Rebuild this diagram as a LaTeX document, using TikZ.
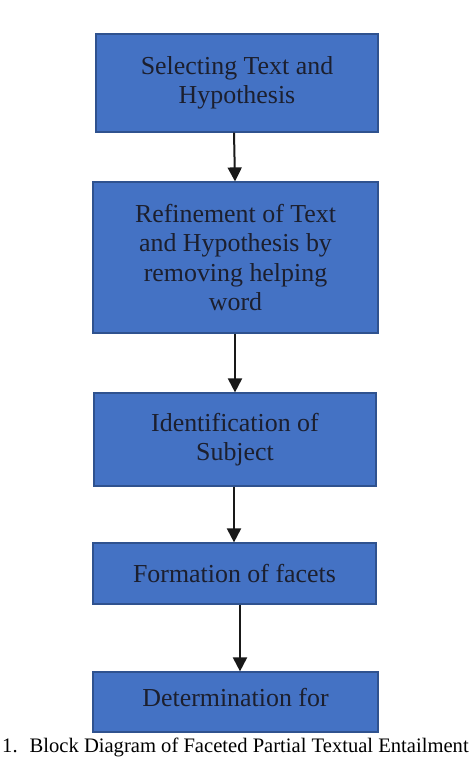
\documentclass[tikz,border=0pt]{standalone}
\usepackage{fontspec}
\setmainfont{Liberation Serif}
\usetikzlibrary{arrows.meta}
\definecolor{boxblue}{HTML}{4472C4}
\definecolor{boxedge}{HTML}{2F528F}
\definecolor{boxtext}{HTML}{1C1F2E}
\tikzset{
  stepbox/.style={rectangle, fill=boxblue, draw=boxedge, line width=1.2pt,
    text=boxtext, align=center, inner sep=0pt,
    font=\fontsize{25.9}{29.5}\selectfont},
  flow/.style={-{Triangle[width=14pt,length=14pt]}, line width=2pt, draw=black!90}
}
\begin{document}
\begin{tikzpicture}[x=1pt,y=-1pt]
  \useasboundingbox (0,0) rectangle (474,758);
  \node[stepbox, minimum width=282, minimum height=98] (select) at (237,83)
    {Selecting Text and\\Hypothesis};
  \node[stepbox, minimum width=285, minimum height=151] (refine) at (235.5,257.5)
    {Refinement of Text\\and Hypothesis by\\removing helping\\word};
  \node[stepbox, minimum width=282, minimum height=93] (subject) at (235,439.5)
    {Identification of\\Subject};
  \node[stepbox, minimum width=283, minimum height=61] (facets) at (234.5,573.5)
    {Formation of facets};
  \node[stepbox, minimum width=285, minimum height=60, text depth=10pt] (determine) at (235.5,702)
    {Determination for};
  \node[anchor=base west, inner sep=0pt, font=\fontsize{20.6}{24}\selectfont]
    (caption) at (2,752) {1.\hspace{12pt}Block Diagram of Faceted Partial Textual Entailment};
  \begin{scope}[flow]
    \draw ([xshift=-3pt]select.south) to ([xshift=-0.5pt]refine.north);
    \draw ([xshift=-0.5pt]refine.south) to (subject.north);
    \draw ([xshift=-1pt]subject.south) to ([xshift=-0.5pt]facets.north);
    \draw ([xshift=5.5pt]facets.south) to ([xshift=4.5pt]determine.north);
  \end{scope}
\end{tikzpicture}
\end{document}
